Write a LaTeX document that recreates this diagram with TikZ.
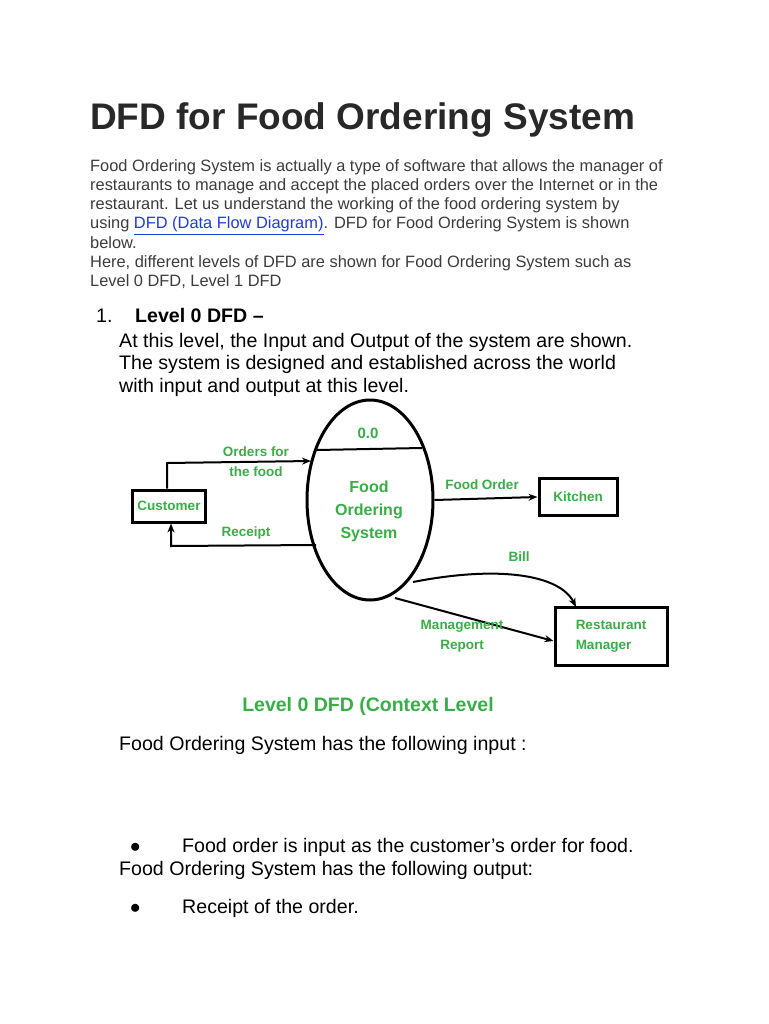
\documentclass[tikz,border=0pt]{standalone}
\usepackage{fontspec}
\setmainfont{Liberation Sans}
\usetikzlibrary{arrows.meta,shapes.geometric}
\definecolor{ttl}{RGB}{40,40,40}
\definecolor{body}{RGB}{60,60,60}
\definecolor{grn}{RGB}{55,175,70}
\definecolor{lnk}{RGB}{30,60,220}
\begin{document}
\begin{tikzpicture}[x=1pt,y=-1pt,
  txt/.style={anchor=base west,inner sep=0pt,text=body,font=\fontsize{16.4}{18}\selectfont},
  big/.style={anchor=base west,inner sep=0pt,text=black,font=\fontsize{19.6}{22}\selectfont},
  lab/.style={inner sep=0pt,text=grn,font=\bfseries\fontsize{13.5}{20}\selectfont,align=center},
  ent/.style={draw,line width=3pt,minimum width=74pt,minimum height=34pt,inner sep=0pt,text=grn,font=\bfseries\fontsize{13.5}{20}\selectfont,align=left},
  flow/.style={line width=2pt,-{Stealth[length=9pt,width=7pt]}}]
\fill[white] (0,0) rectangle (768,1024);
\node[anchor=base west,inner sep=0pt,text=ttl,font=\bfseries\fontsize{37}{40}\selectfont] (title) at (90,130) {DFD for Food Ordering System};
\node[txt] (p1) at (90,172) {Food Ordering System is actually a type of software that allows the manager of};
\node[txt] (p2) at (90,191) {restaurants to manage and accept the placed orders over the Internet or in the};
\node[txt] (p3) at (90,210) {restaurant. Let us understand the working of the food ordering system by};
\node[txt] (p4) at (90,229) {using \textcolor{lnk}{\underline{DFD (Data Flow Diagram)}}. DFD for Food Ordering System is shown};
\node[txt] (p5) at (90,248) {below.};
\node[txt] (p6) at (90,267) {Here, different levels of DFD are shown for Food Ordering System such as};
\node[txt] (p7) at (90,286) {Level 0 DFD, Level 1 DFD};
\node[big] (n1) at (96,322) {1.};
\node[big] (l0) at (135,322) {\bfseries Level 0 DFD --};
\node[big] (q1) at (119,347) {At this level, the Input and Output of the system are shown.};
\node[big] (q2) at (119,369) {The system is designed and established across the world};
\node[big] (q3) at (119,392) {with input and output at this level.};
% diagram
\node[draw,line width=3pt,ellipse,minimum width=126pt,minimum height=200pt,inner sep=0pt] (sys) at (370,500) {};
\draw[line width=2pt] (317,450) -- (422,448);
\node[lab,font=\bfseries\fontsize{15}{19}\selectfont] (id) at (368,433) {0.0};
\node[lab,font=\bfseries\fontsize{16}{23}\selectfont] (nm) at (369,511) {Food\\Ordering\\System};
\node[ent,minimum width=73pt,minimum height=32pt] (cust) at (169,506) {Customer};
\node[ent,minimum width=78pt,minimum height=37pt] (kit) at (578,497) {Kitchen};
\node[ent,minimum width=112pt,minimum height=58pt] (rm) at (611,636) {Restaurant\\Manager};
\coordinate (c1) at (167,463);
\coordinate (c2) at (171,546);
\draw[flow] (cust.north -| c1) -- (c1) -- (311,461);
\draw[flow] (316,545) -- (c2) -- (cust.south -| c2);
\draw[flow] (sys.east) -- (kit.west);
\draw[flow] (413,582) .. controls (500,565) and (560,575) .. (576,607);
\draw[flow] (395,598) -- (rm.west |- 0,641);
\node[lab] (lo) at (256,462) {Orders for\\the food};
\node[lab] (lr) at (246,533) {Receipt};
\node[lab] (lf) at (482,485) {Food Order};
\node[lab] (lb) at (519,557) {Bill};
\node[lab] (lm) at (462,636) {Management\\Report};
\node[lab,font=\bfseries\fontsize{19.5}{22}\selectfont] (cap) at (368,706) {Level 0 DFD (Context Level};
\node[big] (r1) at (119,750) {Food Ordering System has the following input :};
\node[big] (b1) at (130,852) {$\bullet$};
\node[big] (r2) at (182,852) {Food order is input as the customer’s order for food.};
\node[big] (r3) at (119,875) {Food Ordering System has the following output:};
\node[big] (b2) at (130,913) {$\bullet$};
\node[big] (r4) at (182,913) {Receipt of the order.};
\end{tikzpicture}
\end{document}
